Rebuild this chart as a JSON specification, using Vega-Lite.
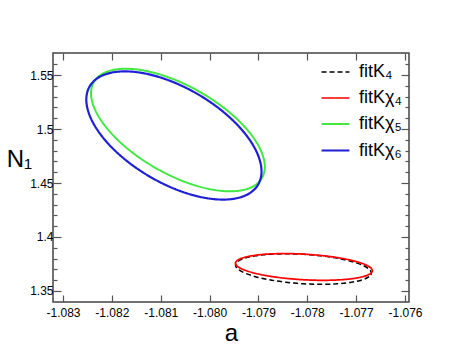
{
  "$schema": "https://vega.github.io/schema/vega-lite/v6.json",
  "width": 356,
  "height": 249,
  "autosize": "none",
  "padding": {"left": 53, "top": 53, "right": 65, "bottom": 53},
  "background": "white",
  "config": {
    "font": "Liberation Sans",
    "view": {"stroke": "#444", "strokeWidth": 1.5},
    "axis": {"domain": false, "grid": false, "tickColor": "#555", "tickWidth": 1.2, "labelColor": "black", "labelFont": "Liberation Sans", "labelFontSize": 12, "titleFont": "Liberation Sans", "titleFontWeight": "normal", "titleColor": "black"},
    "legend": {"padding": 0}
  },
  "datasets": {
    "e": [
      {"s":"fitK₄","i":0,"a":-1.076689,"n":1.366638},{"s":"fitK₄","i":1,"a":-1.076736,"n":1.363232},{"s":"fitK₄","i":2,"a":-1.076875,"n":1.360309},{"s":"fitK₄","i":3,"a":-1.077096,"n":1.358068},{"s":"fitK₄","i":4,"a":-1.077384,"n":1.35666},{"s":"fitK₄","i":5,"a":-1.077719,"n":1.356183},{"s":"fitK₄","i":6,"a":-1.078079,"n":1.356668},{"s":"fitK₄","i":7,"a":-1.078439,"n":1.358083},{"s":"fitK₄","i":8,"a":-1.078774,"n":1.360332},{"s":"fitK₄","i":9,"a":-1.079062,"n":1.36326},{"s":"fitK₄","i":10,"a":-1.079283,"n":1.366669},{"s":"fitK₄","i":11,"a":-1.079422,"n":1.370326},{"s":"fitK₄","i":12,"a":-1.079469,"n":1.373982},{"s":"fitK₄","i":13,"a":-1.079422,"n":1.377388},{"s":"fitK₄","i":14,"a":-1.079283,"n":1.380311},{"s":"fitK₄","i":15,"a":-1.079062,"n":1.382552},{"s":"fitK₄","i":16,"a":-1.078774,"n":1.38396},{"s":"fitK₄","i":17,"a":-1.078439,"n":1.384437},{"s":"fitK₄","i":18,"a":-1.078079,"n":1.383952},{"s":"fitK₄","i":19,"a":-1.077719,"n":1.382537},{"s":"fitK₄","i":20,"a":-1.077384,"n":1.380288},{"s":"fitK₄","i":21,"a":-1.077096,"n":1.37736},{"s":"fitK₄","i":22,"a":-1.076875,"n":1.373951},{"s":"fitK₄","i":23,"a":-1.076736,"n":1.370294},
      {"s":"fitKχ₄","i":0,"a":-1.076668,"n":1.368793},{"s":"fitKχ₄","i":1,"a":-1.076716,"n":1.36584},{"s":"fitKχ₄","i":2,"a":-1.076856,"n":1.363323},{"s":"fitKχ₄","i":3,"a":-1.077079,"n":1.361415},{"s":"fitKχ₄","i":4,"a":-1.077369,"n":1.360245},{"s":"fitKχ₄","i":5,"a":-1.077707,"n":1.359895},{"s":"fitKχ₄","i":6,"a":-1.078069,"n":1.360386},{"s":"fitKχ₄","i":7,"a":-1.078431,"n":1.361687},{"s":"fitKχ₄","i":8,"a":-1.078769,"n":1.363707},{"s":"fitKχ₄","i":9,"a":-1.079059,"n":1.366309},{"s":"fitKχ₄","i":10,"a":-1.079282,"n":1.369317},{"s":"fitKχ₄","i":11,"a":-1.079422,"n":1.372526},{"s":"fitKχ₄","i":12,"a":-1.07947,"n":1.375715},{"s":"fitKχ₄","i":13,"a":-1.079422,"n":1.378668},{"s":"fitKχ₄","i":14,"a":-1.079282,"n":1.381185},{"s":"fitKχ₄","i":15,"a":-1.079059,"n":1.383093},{"s":"fitKχ₄","i":16,"a":-1.078769,"n":1.384263},{"s":"fitKχ₄","i":17,"a":-1.078431,"n":1.384613},{"s":"fitKχ₄","i":18,"a":-1.078069,"n":1.384122},{"s":"fitKχ₄","i":19,"a":-1.077707,"n":1.382821},{"s":"fitKχ₄","i":20,"a":-1.077369,"n":1.380801},{"s":"fitKχ₄","i":21,"a":-1.077079,"n":1.378199},{"s":"fitKχ₄","i":22,"a":-1.076856,"n":1.375191},{"s":"fitKχ₄","i":23,"a":-1.076716,"n":1.371982},
      {"s":"fitKχ₅","i":0,"a":-1.078869,"n":1.465014},{"s":"fitKχ₅","i":1,"a":-1.07893,"n":1.454423},{"s":"fitKχ₅","i":2,"a":-1.079107,"n":1.446873},{"s":"fitKχ₅","i":3,"a":-1.07939,"n":1.442881},{"s":"fitKχ₅","i":4,"a":-1.079758,"n":1.442718},{"s":"fitKχ₅","i":5,"a":-1.080188,"n":1.446396},{"s":"fitKχ₅","i":6,"a":-1.080648,"n":1.453662},{"s":"fitKχ₅","i":7,"a":-1.081108,"n":1.464024},{"s":"fitKχ₅","i":8,"a":-1.081538,"n":1.476774},{"s":"fitKχ₅","i":9,"a":-1.081906,"n":1.491043},{"s":"fitKχ₅","i":10,"a":-1.082189,"n":1.505859},{"s":"fitKχ₅","i":11,"a":-1.082366,"n":1.520213},{"s":"fitKχ₅","i":12,"a":-1.082427,"n":1.533126},{"s":"fitKχ₅","i":13,"a":-1.082366,"n":1.543717},{"s":"fitKχ₅","i":14,"a":-1.082189,"n":1.551267},{"s":"fitKχ₅","i":15,"a":-1.081906,"n":1.555259},{"s":"fitKχ₅","i":16,"a":-1.081538,"n":1.555422},{"s":"fitKχ₅","i":17,"a":-1.081108,"n":1.551744},{"s":"fitKχ₅","i":18,"a":-1.080648,"n":1.544478},{"s":"fitKχ₅","i":19,"a":-1.080188,"n":1.534116},{"s":"fitKχ₅","i":20,"a":-1.079758,"n":1.521366},{"s":"fitKχ₅","i":21,"a":-1.07939,"n":1.507097},{"s":"fitKχ₅","i":22,"a":-1.079107,"n":1.492281},{"s":"fitKχ₅","i":23,"a":-1.07893,"n":1.477927},
      {"s":"fitKχ₆","i":0,"a":-1.078937,"n":1.460757},{"s":"fitKχ₆","i":1,"a":-1.078998,"n":1.449162},{"s":"fitKχ₆","i":2,"a":-1.079177,"n":1.440622},{"s":"fitKχ₆","i":3,"a":-1.079462,"n":1.435721},{"s":"fitKχ₆","i":4,"a":-1.079834,"n":1.434795},{"s":"fitKχ₆","i":5,"a":-1.080266,"n":1.437905},{"s":"fitKχ₆","i":6,"a":-1.08073,"n":1.444837},{"s":"fitKχ₆","i":7,"a":-1.081194,"n":1.455123},{"s":"fitKχ₆","i":8,"a":-1.081626,"n":1.468061},{"s":"fitKχ₆","i":9,"a":-1.081998,"n":1.482765},{"s":"fitKχ₆","i":10,"a":-1.082283,"n":1.498238},{"s":"fitKχ₆","i":11,"a":-1.082462,"n":1.513426},{"s":"fitKχ₆","i":12,"a":-1.082523,"n":1.527289},{"s":"fitKχ₆","i":13,"a":-1.082462,"n":1.538884},{"s":"fitKχ₆","i":14,"a":-1.082283,"n":1.547424},{"s":"fitKχ₆","i":15,"a":-1.081998,"n":1.552325},{"s":"fitKχ₆","i":16,"a":-1.081626,"n":1.553251},{"s":"fitKχ₆","i":17,"a":-1.081194,"n":1.550141},{"s":"fitKχ₆","i":18,"a":-1.08073,"n":1.543209},{"s":"fitKχ₆","i":19,"a":-1.080266,"n":1.532923},{"s":"fitKχ₆","i":20,"a":-1.079834,"n":1.519985},{"s":"fitKχ₆","i":21,"a":-1.079462,"n":1.505281},{"s":"fitKχ₆","i":22,"a":-1.079177,"n":1.489808},{"s":"fitKχ₆","i":23,"a":-1.078998,"n":1.47462}
    ]
  },
  "data": {"name": "e"},
  "layer": [
    {
      "mark": {"type": "line", "interpolate": "cardinal-closed"},
      "encoding": {
        "x": {"field": "a", "type": "quantitative", "scale": {"domain": [-1.083205, -1.075918], "nice": false, "zero": false},
          "axis": {"orient": "bottom", "title": "a", "titleFontSize": 24, "titlePadding": 3, "values": [-1.083, -1.082, -1.081, -1.08, -1.079, -1.078, -1.077, -1.076], "labelExpr": "replace(format(datum.value, '.3f'), '\u2212', '-')", "tickSize": -7, "labelPadding": 12, "labelFlush": false}},
        "y": {"field": "n", "type": "quantitative", "scale": {"domain": [1.3398, 1.5704], "nice": false, "zero": false},
          "axis": {"orient": "left", "title": "N₁", "titleFontSize": 24, "titleAngle": 0, "titleAlign": "center", "titleBaseline": "middle", "titleX": -34, "titleY": 106,
            "values": [1.35, 1.36, 1.37, 1.38, 1.39, 1.4, 1.41, 1.42, 1.43, 1.44, 1.45, 1.46, 1.47, 1.48, 1.49, 1.5, 1.51, 1.52, 1.53, 1.54, 1.55, 1.56],
            "labelExpr": "abs(datum.value*20 - round(datum.value*20)) < 0.001 ? toString(round(datum.value*100)/100) : ''",
            "tickSize": {"condition": {"test": "abs(datum.value*20 - round(datum.value*20)) < 0.001", "value": -8}, "value": -4},
            "labelPadding": 8, "labelFlush": false}},
        "order": {"field": "i", "type": "quantitative"},
        "color": {"field": "s", "type": "nominal", "scale": {"domain": ["fitK₄", "fitKχ₄", "fitKχ₅", "fitKχ₆"], "range": ["#000000", "#ff0000", "#40e840", "#1f1fd6"]},
          "legend": {"title": null, "orient": "none", "legendX": 272, "legendY": 9, "symbolType": "M-1.55,0H1.55", "symbolSize": 324, "symbolStrokeWidth": 2, "labelFontSize": 18, "labelFont": "Liberation Sans", "labelColor": "black", "labelOffset": 13, "rowPadding": 7, "labelLimit": 200}},
        "strokeDash": {"field": "s", "type": "nominal", "scale": {"domain": ["fitK₄", "fitKχ₄", "fitKχ₅", "fitKχ₆"], "range": [[5, 3], [1, 0], [1, 0], [1, 0]]},
          "legend": {"title": null, "orient": "none", "legendX": 272, "legendY": 9, "symbolType": "M-1.55,0H1.55", "symbolSize": 324, "symbolStrokeWidth": 2, "labelFontSize": 18, "labelFont": "Liberation Sans", "labelColor": "black", "labelOffset": 13, "rowPadding": 7, "labelLimit": 200}},
        "strokeWidth": {"field": "s", "type": "nominal", "scale": {"domain": ["fitK₄", "fitKχ₄", "fitKχ₅", "fitKχ₆"], "range": [1.5, 2.2, 1.6, 1.6]}, "legend": null}
      }
    },
    {
      "mark": {"type": "point", "opacity": 0},
      "encoding": {
        "x": {"field": "a", "type": "quantitative",
          "axis": {"orient": "top", "title": null, "labels": false, "values": [-1.083, -1.082, -1.081, -1.08, -1.079, -1.078, -1.077, -1.076], "tickSize": -7}},
        "y": {"field": "n", "type": "quantitative",
          "axis": {"orient": "right", "title": null, "labels": false,
            "values": [1.35, 1.36, 1.37, 1.38, 1.39, 1.4, 1.41, 1.42, 1.43, 1.44, 1.45, 1.46, 1.47, 1.48, 1.49, 1.5, 1.51, 1.52, 1.53, 1.54, 1.55, 1.56],
            "tickSize": {"condition": {"test": "abs(datum.value*20 - round(datum.value*20)) < 0.001", "value": -8}, "value": -4}}}
      }
    }
  ],
  "resolve": {"axis": {"x": "independent", "y": "independent"}}
}
